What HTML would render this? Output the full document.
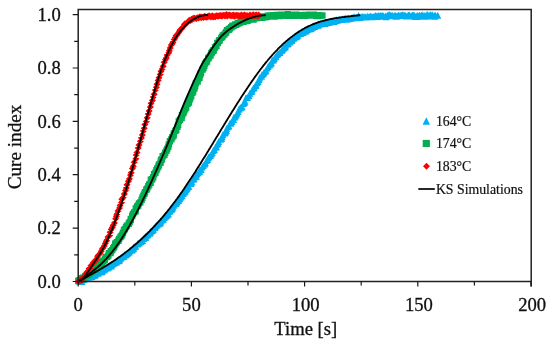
<!DOCTYPE html>
<html><head><meta charset="utf-8"><title>Cure index</title>
<style>html,body{margin:0;padding:0;background:#fff}svg{display:block}text{font-family:"Liberation Serif",serif;font-size:18.6px;fill:#111;stroke:#111;stroke-width:.3px}</style>
</head><body>
<svg width="550" height="345" viewBox="0 0 550 345">
<rect width="550" height="345" fill="#fff"/>
<path fill="#00b0f0" d="M78.7 276.8l3.5 7.0h-7.0zM79.3 277.4l3.5 7.0h-7.0zM80.1 277.2l3.5 7.0h-7.0zM80.7 276.9l3.5 7.0h-7.0zM82.0 278.1l3.5 7.0h-7.0zM83.3 276.1l3.5 7.0h-7.0zM84.1 275.6l3.5 7.0h-7.0zM84.9 275.3l3.5 7.0h-7.0zM86.3 275.0l3.5 7.0h-7.0zM87.4 274.6l3.5 7.0h-7.0zM88.2 274.9l3.5 7.0h-7.0zM89.3 273.6l3.5 7.0h-7.0zM90.2 273.6l3.5 7.0h-7.0zM91.7 272.8l3.5 7.0h-7.0zM92.1 272.9l3.5 7.0h-7.0zM93.0 271.9l3.5 7.0h-7.0zM94.4 271.8l3.5 7.0h-7.0zM95.2 271.3l3.5 7.0h-7.0zM95.5 271.0l3.5 7.0h-7.0zM97.0 269.3l3.5 7.0h-7.0zM98.3 269.8l3.5 7.0h-7.0zM99.1 268.5l3.5 7.0h-7.0zM100.2 268.4l3.5 7.0h-7.0zM101.6 268.3l3.5 7.0h-7.0zM102.2 267.9l3.5 7.0h-7.0zM103.1 266.4l3.5 7.0h-7.0zM104.3 266.5l3.5 7.0h-7.0zM105.1 265.3l3.5 7.0h-7.0zM106.3 263.9l3.5 7.0h-7.0zM107.4 264.6l3.5 7.0h-7.0zM107.8 263.8l3.5 7.0h-7.0zM109.0 263.5l3.5 7.0h-7.0zM109.7 262.1l3.5 7.0h-7.0zM111.4 262.4l3.5 7.0h-7.0zM111.7 261.0l3.5 7.0h-7.0zM113.3 260.2l3.5 7.0h-7.0zM114.6 259.3l3.5 7.0h-7.0zM115.3 258.7l3.5 7.0h-7.0zM116.6 258.4l3.5 7.0h-7.0zM117.1 256.9l3.5 7.0h-7.0zM118.6 257.3l3.5 7.0h-7.0zM119.4 256.7l3.5 7.0h-7.0zM120.3 255.2l3.5 7.0h-7.0zM121.0 254.3l3.5 7.0h-7.0zM122.5 253.2l3.5 7.0h-7.0zM123.1 253.0l3.5 7.0h-7.0zM124.3 252.6l3.5 7.0h-7.0zM124.9 250.7l3.5 7.0h-7.0zM126.2 251.2l3.5 7.0h-7.0zM127.4 249.9l3.5 7.0h-7.0zM128.1 249.1l3.5 7.0h-7.0zM129.1 248.5l3.5 7.0h-7.0zM130.0 247.3l3.5 7.0h-7.0zM131.2 246.6l3.5 7.0h-7.0zM132.3 246.6l3.5 7.0h-7.0zM133.6 245.3l3.5 7.0h-7.0zM133.7 243.6l3.5 7.0h-7.0zM135.0 243.1l3.5 7.0h-7.0zM135.6 242.5l3.5 7.0h-7.0zM137.5 240.5l3.5 7.0h-7.0zM138.0 239.8l3.5 7.0h-7.0zM139.2 239.6l3.5 7.0h-7.0zM140.7 238.3l3.5 7.0h-7.0zM141.4 237.5l3.5 7.0h-7.0zM142.6 236.9l3.5 7.0h-7.0zM143.5 235.1l3.5 7.0h-7.0zM144.2 234.3l3.5 7.0h-7.0zM145.6 234.0l3.5 7.0h-7.0zM146.1 232.6l3.5 7.0h-7.0zM147.3 231.5l3.5 7.0h-7.0zM148.0 231.1l3.5 7.0h-7.0zM149.8 229.8l3.5 7.0h-7.0zM150.1 228.4l3.5 7.0h-7.0zM150.9 228.2l3.5 7.0h-7.0zM152.4 227.0l3.5 7.0h-7.0zM153.3 226.0l3.5 7.0h-7.0zM154.2 224.2l3.5 7.0h-7.0zM155.1 223.9l3.5 7.0h-7.0zM156.0 222.6l3.5 7.0h-7.0zM157.0 221.6l3.5 7.0h-7.0zM158.4 220.5l3.5 7.0h-7.0zM159.2 220.0l3.5 7.0h-7.0zM160.4 219.3l3.5 7.0h-7.0zM160.7 217.8l3.5 7.0h-7.0zM162.1 216.4l3.5 7.0h-7.0zM163.4 215.7l3.5 7.0h-7.0zM164.5 214.1l3.5 7.0h-7.0zM165.6 212.8l3.5 7.0h-7.0zM166.2 212.1l3.5 7.0h-7.0zM167.1 211.6l3.5 7.0h-7.0zM168.5 210.4l3.5 7.0h-7.0zM169.2 208.0l3.5 7.0h-7.0zM170.2 207.3l3.5 7.0h-7.0zM171.1 206.0l3.5 7.0h-7.0zM172.2 205.3l3.5 7.0h-7.0zM173.0 203.8l3.5 7.0h-7.0zM174.0 201.7l3.5 7.0h-7.0zM175.0 200.3l3.5 7.0h-7.0zM176.2 200.0l3.5 7.0h-7.0zM177.2 198.6l3.5 7.0h-7.0zM178.6 197.1l3.5 7.0h-7.0zM179.2 195.6l3.5 7.0h-7.0zM179.8 194.7l3.5 7.0h-7.0zM180.8 193.4l3.5 7.0h-7.0zM182.2 192.3l3.5 7.0h-7.0zM183.2 190.1l3.5 7.0h-7.0zM184.3 188.8l3.5 7.0h-7.0zM185.2 187.8l3.5 7.0h-7.0zM186.2 186.3l3.5 7.0h-7.0zM187.0 184.9l3.5 7.0h-7.0zM187.7 183.6l3.5 7.0h-7.0zM188.9 182.8l3.5 7.0h-7.0zM190.5 180.0l3.5 7.0h-7.0zM191.2 179.4l3.5 7.0h-7.0zM191.9 178.3l3.5 7.0h-7.0zM193.1 175.8l3.5 7.0h-7.0zM194.1 175.2l3.5 7.0h-7.0zM195.2 173.2l3.5 7.0h-7.0zM196.4 172.7l3.5 7.0h-7.0zM196.9 170.6l3.5 7.0h-7.0zM198.2 169.2l3.5 7.0h-7.0zM199.6 168.1l3.5 7.0h-7.0zM199.9 166.2l3.5 7.0h-7.0zM201.2 166.1l3.5 7.0h-7.0zM202.2 163.6l3.5 7.0h-7.0zM203.3 162.1l3.5 7.0h-7.0zM204.8 160.4l3.5 7.0h-7.0zM205.4 159.2l3.5 7.0h-7.0zM206.4 157.1l3.5 7.0h-7.0zM207.6 156.1l3.5 7.0h-7.0zM208.2 154.2l3.5 7.0h-7.0zM209.0 153.3l3.5 7.0h-7.0zM210.4 151.9l3.5 7.0h-7.0zM211.5 150.4l3.5 7.0h-7.0zM212.2 148.9l3.5 7.0h-7.0zM213.3 146.9l3.5 7.0h-7.0zM214.4 146.0l3.5 7.0h-7.0zM215.3 143.8l3.5 7.0h-7.0zM216.4 143.2l3.5 7.0h-7.0zM217.1 140.8l3.5 7.0h-7.0zM218.2 139.8l3.5 7.0h-7.0zM218.7 137.9l3.5 7.0h-7.0zM220.5 135.8l3.5 7.0h-7.0zM221.6 134.9l3.5 7.0h-7.0zM222.1 133.2l3.5 7.0h-7.0zM222.8 131.3l3.5 7.0h-7.0zM224.7 129.6l3.5 7.0h-7.0zM225.7 128.4l3.5 7.0h-7.0zM226.4 126.9l3.5 7.0h-7.0zM226.6 125.0l3.5 7.0h-7.0zM228.2 123.2l3.5 7.0h-7.0zM228.9 122.3l3.5 7.0h-7.0zM230.0 119.8l3.5 7.0h-7.0zM231.0 119.4l3.5 7.0h-7.0zM232.1 117.9l3.5 7.0h-7.0zM233.6 115.9l3.5 7.0h-7.0zM233.9 113.7l3.5 7.0h-7.0zM235.2 113.2l3.5 7.0h-7.0zM236.3 111.5l3.5 7.0h-7.0zM237.1 109.8l3.5 7.0h-7.0zM238.1 107.9l3.5 7.0h-7.0zM238.9 105.8l3.5 7.0h-7.0zM240.1 104.5l3.5 7.0h-7.0zM241.0 103.7l3.5 7.0h-7.0zM242.2 103.2l3.5 7.0h-7.0zM243.4 100.0l3.5 7.0h-7.0zM244.4 98.9l3.5 7.0h-7.0zM245.0 97.7l3.5 7.0h-7.0zM246.0 94.3l3.5 7.0h-7.0zM247.4 93.9l3.5 7.0h-7.0zM248.6 92.3l3.5 7.0h-7.0zM248.9 91.8l3.5 7.0h-7.0zM249.9 89.7l3.5 7.0h-7.0zM251.6 88.1l3.5 7.0h-7.0zM252.2 86.6l3.5 7.0h-7.0zM253.4 84.7l3.5 7.0h-7.0zM254.4 83.8l3.5 7.0h-7.0zM255.8 81.9l3.5 7.0h-7.0zM256.0 80.9l3.5 7.0h-7.0zM257.1 79.2l3.5 7.0h-7.0zM258.2 78.1l3.5 7.0h-7.0zM259.0 76.0l3.5 7.0h-7.0zM259.6 74.2l3.5 7.0h-7.0zM261.6 72.8l3.5 7.0h-7.0zM262.0 71.1l3.5 7.0h-7.0zM263.3 70.3l3.5 7.0h-7.0zM263.9 69.1l3.5 7.0h-7.0zM265.3 67.7l3.5 7.0h-7.0zM266.0 66.7l3.5 7.0h-7.0zM267.3 64.4l3.5 7.0h-7.0zM268.1 63.0l3.5 7.0h-7.0zM269.4 61.6l3.5 7.0h-7.0zM270.5 60.6l3.5 7.0h-7.0zM271.5 59.3l3.5 7.0h-7.0zM272.2 56.7l3.5 7.0h-7.0zM273.3 56.6l3.5 7.0h-7.0zM274.2 55.2l3.5 7.0h-7.0zM275.1 53.5l3.5 7.0h-7.0zM276.0 53.1l3.5 7.0h-7.0zM277.2 51.0l3.5 7.0h-7.0zM277.9 50.0l3.5 7.0h-7.0zM279.6 49.1l3.5 7.0h-7.0zM280.0 48.4l3.5 7.0h-7.0zM281.6 47.1l3.5 7.0h-7.0zM282.4 46.1l3.5 7.0h-7.0zM283.3 44.8l3.5 7.0h-7.0zM284.0 44.1l3.5 7.0h-7.0zM285.3 43.4l3.5 7.0h-7.0zM285.7 41.8l3.5 7.0h-7.0zM287.4 40.4l3.5 7.0h-7.0zM288.3 39.9l3.5 7.0h-7.0zM289.3 38.4l3.5 7.0h-7.0zM290.2 38.3l3.5 7.0h-7.0zM291.5 37.0l3.5 7.0h-7.0zM292.2 36.2l3.5 7.0h-7.0zM293.5 34.8l3.5 7.0h-7.0zM293.9 34.6l3.5 7.0h-7.0zM294.9 33.5l3.5 7.0h-7.0zM296.2 33.2l3.5 7.0h-7.0zM296.9 32.6l3.5 7.0h-7.0zM297.8 31.8l3.5 7.0h-7.0zM298.8 30.3l3.5 7.0h-7.0zM300.4 30.0l3.5 7.0h-7.0zM301.0 29.4l3.5 7.0h-7.0zM302.3 28.9l3.5 7.0h-7.0zM303.2 28.8l3.5 7.0h-7.0zM304.0 27.6l3.5 7.0h-7.0zM305.1 27.7l3.5 7.0h-7.0zM306.4 27.2l3.5 7.0h-7.0zM307.2 26.1l3.5 7.0h-7.0zM308.4 25.4l3.5 7.0h-7.0zM309.4 25.4l3.5 7.0h-7.0zM310.0 24.6l3.5 7.0h-7.0zM311.2 25.0l3.5 7.0h-7.0zM312.8 23.7l3.5 7.0h-7.0zM313.2 22.3l3.5 7.0h-7.0zM314.3 22.9l3.5 7.0h-7.0zM314.9 22.8l3.5 7.0h-7.0zM315.8 22.0l3.5 7.0h-7.0zM317.2 21.1l3.5 7.0h-7.0zM318.4 21.8l3.5 7.0h-7.0zM318.9 20.4l3.5 7.0h-7.0zM320.4 20.6l3.5 7.0h-7.0zM320.9 20.2l3.5 7.0h-7.0zM322.2 20.0l3.5 7.0h-7.0zM323.4 19.9l3.5 7.0h-7.0zM324.6 20.0l3.5 7.0h-7.0zM325.4 19.6l3.5 7.0h-7.0zM326.5 19.2l3.5 7.0h-7.0zM326.9 19.0l3.5 7.0h-7.0zM328.2 19.1l3.5 7.0h-7.0zM329.2 18.3l3.5 7.0h-7.0zM330.3 18.6l3.5 7.0h-7.0zM331.2 17.5l3.5 7.0h-7.0zM332.3 17.2l3.5 7.0h-7.0zM333.2 17.2l3.5 7.0h-7.0zM334.3 17.9l3.5 7.0h-7.0zM335.1 16.8l3.5 7.0h-7.0zM336.2 16.9l3.5 7.0h-7.0zM336.9 16.1l3.5 7.0h-7.0zM338.2 16.5l3.5 7.0h-7.0zM339.2 15.8l3.5 7.0h-7.0zM340.0 16.1l3.5 7.0h-7.0zM341.6 15.9l3.5 7.0h-7.0zM342.2 15.8l3.5 7.0h-7.0zM343.0 15.3l3.5 7.0h-7.0zM344.1 15.4l3.5 7.0h-7.0zM345.2 14.6l3.5 7.0h-7.0zM346.5 15.7l3.5 7.0h-7.0zM347.1 15.0l3.5 7.0h-7.0zM348.3 15.1l3.5 7.0h-7.0zM348.8 15.3l3.5 7.0h-7.0zM350.1 15.0l3.5 7.0h-7.0zM351.2 14.2l3.5 7.0h-7.0zM352.2 14.6l3.5 7.0h-7.0zM353.0 14.0l3.5 7.0h-7.0zM354.1 13.2l3.5 7.0h-7.0zM355.5 14.2l3.5 7.0h-7.0zM356.2 14.3l3.5 7.0h-7.0zM357.0 13.7l3.5 7.0h-7.0zM358.6 14.1l3.5 7.0h-7.0zM358.6 12.1l3.5 7.0h-7.0zM359.9 13.9l3.5 7.0h-7.0zM361.1 13.3l3.5 7.0h-7.0zM362.4 12.9l3.5 7.0h-7.0zM363.3 13.6l3.5 7.0h-7.0zM364.3 13.4l3.5 7.0h-7.0zM365.0 13.3l3.5 7.0h-7.0zM366.1 13.6l3.5 7.0h-7.0zM367.8 12.6l3.5 7.0h-7.0zM367.7 12.7l3.5 7.0h-7.0zM369.3 13.3l3.5 7.0h-7.0zM370.5 12.5l3.5 7.0h-7.0zM371.0 13.3l3.5 7.0h-7.0zM371.9 13.2l3.5 7.0h-7.0zM373.1 13.0l3.5 7.0h-7.0zM374.4 13.0l3.5 7.0h-7.0zM375.4 12.1l3.5 7.0h-7.0zM376.3 12.5l3.5 7.0h-7.0zM377.3 13.0l3.5 7.0h-7.0zM378.1 12.1l3.5 7.0h-7.0zM379.0 12.3l3.5 7.0h-7.0zM380.4 12.0l3.5 7.0h-7.0zM381.5 12.5l3.5 7.0h-7.0zM382.1 11.7l3.5 7.0h-7.0zM383.3 12.6l3.5 7.0h-7.0zM383.8 12.8l3.5 7.0h-7.0zM385.6 12.4l3.5 7.0h-7.0zM386.3 13.3l3.5 7.0h-7.0zM387.5 11.8l3.5 7.0h-7.0zM388.2 12.1l3.5 7.0h-7.0zM389.2 11.0l3.5 7.0h-7.0zM390.4 11.8l3.5 7.0h-7.0zM391.2 12.0l3.5 7.0h-7.0zM392.4 11.9l3.5 7.0h-7.0zM393.0 12.3l3.5 7.0h-7.0zM394.6 11.9l3.5 7.0h-7.0zM395.5 12.1l3.5 7.0h-7.0zM396.1 12.7l3.5 7.0h-7.0zM397.0 12.4l3.5 7.0h-7.0zM398.1 12.1l3.5 7.0h-7.0zM398.9 11.6l3.5 7.0h-7.0zM400.5 12.0l3.5 7.0h-7.0zM401.2 11.7l3.5 7.0h-7.0zM402.3 11.3l3.5 7.0h-7.0zM402.9 11.8l3.5 7.0h-7.0zM404.0 11.6l3.5 7.0h-7.0zM405.2 11.8l3.5 7.0h-7.0zM406.1 12.6l3.5 7.0h-7.0zM407.5 12.5l3.5 7.0h-7.0zM408.2 11.7l3.5 7.0h-7.0zM408.8 11.7l3.5 7.0h-7.0zM409.7 11.6l3.5 7.0h-7.0zM411.4 12.6l3.5 7.0h-7.0zM412.4 11.5l3.5 7.0h-7.0zM413.3 11.5l3.5 7.0h-7.0zM414.4 11.8l3.5 7.0h-7.0zM415.4 13.1l3.5 7.0h-7.0zM416.4 12.9l3.5 7.0h-7.0zM417.2 11.8l3.5 7.0h-7.0zM418.5 12.7l3.5 7.0h-7.0zM419.1 11.9l3.5 7.0h-7.0zM419.8 11.8l3.5 7.0h-7.0zM421.4 11.9l3.5 7.0h-7.0zM422.1 11.3l3.5 7.0h-7.0zM423.3 12.3l3.5 7.0h-7.0zM424.3 12.0l3.5 7.0h-7.0zM424.9 12.7l3.5 7.0h-7.0zM426.2 11.8l3.5 7.0h-7.0zM427.4 10.9l3.5 7.0h-7.0zM428.2 11.8l3.5 7.0h-7.0zM429.3 12.5l3.5 7.0h-7.0zM430.3 11.1l3.5 7.0h-7.0zM431.1 12.0l3.5 7.0h-7.0zM432.2 11.3l3.5 7.0h-7.0zM432.8 12.1l3.5 7.0h-7.0zM434.3 11.9l3.5 7.0h-7.0zM434.8 12.7l3.5 7.0h-7.0zM435.5 11.7l3.5 7.0h-7.0zM437.8 11.8l3.5 7.0h-7.0z"/><path fill="#00b050" d="M75.1 277.8h6.4v6.4h-6.4zM76.3 277.0h6.4v6.4h-6.4zM77.1 276.9h6.4v6.4h-6.4zM77.7 276.6h6.4v6.4h-6.4zM78.6 275.1h6.4v6.4h-6.4zM80.0 274.6h6.4v6.4h-6.4zM81.1 274.5h6.4v6.4h-6.4zM81.9 273.1h6.4v6.4h-6.4zM82.9 272.5h6.4v6.4h-6.4zM84.2 271.9h6.4v6.4h-6.4zM85.1 271.2h6.4v6.4h-6.4zM85.8 270.9h6.4v6.4h-6.4zM86.7 269.8h6.4v6.4h-6.4zM88.4 268.5h6.4v6.4h-6.4zM89.0 267.5h6.4v6.4h-6.4zM89.9 266.8h6.4v6.4h-6.4zM90.9 266.4h6.4v6.4h-6.4zM92.0 266.6h6.4v6.4h-6.4zM93.1 265.3h6.4v6.4h-6.4zM94.0 264.0h6.4v6.4h-6.4zM94.8 262.4h6.4v6.4h-6.4zM96.0 263.0h6.4v6.4h-6.4zM97.1 261.1h6.4v6.4h-6.4zM98.4 260.1h6.4v6.4h-6.4zM98.8 258.7h6.4v6.4h-6.4zM99.8 258.1h6.4v6.4h-6.4zM101.5 257.0h6.4v6.4h-6.4zM101.7 255.6h6.4v6.4h-6.4zM102.9 253.9h6.4v6.4h-6.4zM104.0 253.7h6.4v6.4h-6.4zM105.1 252.4h6.4v6.4h-6.4zM105.7 250.0h6.4v6.4h-6.4zM107.3 249.9h6.4v6.4h-6.4zM107.6 248.1h6.4v6.4h-6.4zM109.0 246.9h6.4v6.4h-6.4zM110.1 244.9h6.4v6.4h-6.4zM111.0 243.7h6.4v6.4h-6.4zM112.0 241.3h6.4v6.4h-6.4zM112.3 240.2h6.4v6.4h-6.4zM113.6 239.1h6.4v6.4h-6.4zM115.2 237.5h6.4v6.4h-6.4zM115.9 235.8h6.4v6.4h-6.4zM117.3 233.8h6.4v6.4h-6.4zM118.2 232.8h6.4v6.4h-6.4zM119.1 231.4h6.4v6.4h-6.4zM119.8 229.5h6.4v6.4h-6.4zM120.8 227.0h6.4v6.4h-6.4zM121.7 225.9h6.4v6.4h-6.4zM122.8 223.9h6.4v6.4h-6.4zM123.7 222.6h6.4v6.4h-6.4zM125.5 220.5h6.4v6.4h-6.4zM126.4 218.9h6.4v6.4h-6.4zM127.5 216.9h6.4v6.4h-6.4zM127.6 215.7h6.4v6.4h-6.4zM129.0 212.8h6.4v6.4h-6.4zM129.8 210.7h6.4v6.4h-6.4zM131.0 209.2h6.4v6.4h-6.4zM132.4 208.1h6.4v6.4h-6.4zM132.6 205.3h6.4v6.4h-6.4zM133.9 203.3h6.4v6.4h-6.4zM135.0 202.3h6.4v6.4h-6.4zM135.8 200.2h6.4v6.4h-6.4zM137.1 199.2h6.4v6.4h-6.4zM138.4 196.7h6.4v6.4h-6.4zM139.2 194.5h6.4v6.4h-6.4zM140.1 192.5h6.4v6.4h-6.4zM141.2 190.5h6.4v6.4h-6.4zM141.8 189.1h6.4v6.4h-6.4zM143.1 186.6h6.4v6.4h-6.4zM143.9 185.4h6.4v6.4h-6.4zM145.1 183.0h6.4v6.4h-6.4zM146.0 181.3h6.4v6.4h-6.4zM147.4 179.7h6.4v6.4h-6.4zM147.7 176.5h6.4v6.4h-6.4zM149.0 176.1h6.4v6.4h-6.4zM150.0 174.0h6.4v6.4h-6.4zM150.9 171.0h6.4v6.4h-6.4zM152.2 169.6h6.4v6.4h-6.4zM153.2 167.0h6.4v6.4h-6.4zM154.0 165.3h6.4v6.4h-6.4zM155.2 163.3h6.4v6.4h-6.4zM155.8 161.3h6.4v6.4h-6.4zM157.3 159.5h6.4v6.4h-6.4zM157.8 157.0h6.4v6.4h-6.4zM158.7 156.1h6.4v6.4h-6.4zM159.5 153.0h6.4v6.4h-6.4zM161.2 151.8h6.4v6.4h-6.4zM162.0 149.6h6.4v6.4h-6.4zM163.2 147.6h6.4v6.4h-6.4zM164.0 145.8h6.4v6.4h-6.4zM165.1 143.6h6.4v6.4h-6.4zM165.7 141.2h6.4v6.4h-6.4zM166.7 138.0h6.4v6.4h-6.4zM168.1 136.2h6.4v6.4h-6.4zM169.1 134.0h6.4v6.4h-6.4zM170.4 132.3h6.4v6.4h-6.4zM170.7 130.2h6.4v6.4h-6.4zM172.2 127.7h6.4v6.4h-6.4zM173.1 126.8h6.4v6.4h-6.4zM174.2 123.7h6.4v6.4h-6.4zM174.9 121.7h6.4v6.4h-6.4zM175.6 117.9h6.4v6.4h-6.4zM176.8 116.6h6.4v6.4h-6.4zM178.4 114.9h6.4v6.4h-6.4zM178.8 112.1h6.4v6.4h-6.4zM180.1 110.1h6.4v6.4h-6.4zM180.9 108.2h6.4v6.4h-6.4zM182.0 106.0h6.4v6.4h-6.4zM183.0 104.3h6.4v6.4h-6.4zM184.4 100.7h6.4v6.4h-6.4zM185.7 99.3h6.4v6.4h-6.4zM186.3 96.6h6.4v6.4h-6.4zM187.1 94.8h6.4v6.4h-6.4zM188.0 92.8h6.4v6.4h-6.4zM189.2 89.6h6.4v6.4h-6.4zM190.0 88.1h6.4v6.4h-6.4zM191.2 85.3h6.4v6.4h-6.4zM191.9 83.1h6.4v6.4h-6.4zM192.7 80.2h6.4v6.4h-6.4zM194.4 78.3h6.4v6.4h-6.4zM195.0 75.8h6.4v6.4h-6.4zM196.3 74.6h6.4v6.4h-6.4zM197.0 71.7h6.4v6.4h-6.4zM197.8 69.9h6.4v6.4h-6.4zM199.3 66.4h6.4v6.4h-6.4zM200.3 64.8h6.4v6.4h-6.4zM201.1 62.7h6.4v6.4h-6.4zM201.9 60.4h6.4v6.4h-6.4zM203.2 58.9h6.4v6.4h-6.4zM203.8 58.1h6.4v6.4h-6.4zM205.0 55.3h6.4v6.4h-6.4zM205.8 54.2h6.4v6.4h-6.4zM207.3 52.4h6.4v6.4h-6.4zM208.2 49.9h6.4v6.4h-6.4zM208.9 48.8h6.4v6.4h-6.4zM210.0 47.6h6.4v6.4h-6.4zM210.5 47.1h6.4v6.4h-6.4zM211.8 44.3h6.4v6.4h-6.4zM213.2 42.9h6.4v6.4h-6.4zM214.1 39.7h6.4v6.4h-6.4zM214.7 39.8h6.4v6.4h-6.4zM215.8 37.5h6.4v6.4h-6.4zM216.4 37.0h6.4v6.4h-6.4zM218.1 34.7h6.4v6.4h-6.4zM219.0 33.7h6.4v6.4h-6.4zM219.7 32.3h6.4v6.4h-6.4zM221.1 31.4h6.4v6.4h-6.4zM222.3 29.9h6.4v6.4h-6.4zM222.9 29.0h6.4v6.4h-6.4zM223.8 27.1h6.4v6.4h-6.4zM225.3 26.5h6.4v6.4h-6.4zM226.0 26.1h6.4v6.4h-6.4zM226.7 25.2h6.4v6.4h-6.4zM228.1 24.1h6.4v6.4h-6.4zM229.1 23.0h6.4v6.4h-6.4zM229.5 22.6h6.4v6.4h-6.4zM230.8 22.4h6.4v6.4h-6.4zM232.1 21.2h6.4v6.4h-6.4zM233.0 21.5h6.4v6.4h-6.4zM234.3 20.6h6.4v6.4h-6.4zM235.1 19.9h6.4v6.4h-6.4zM236.0 19.8h6.4v6.4h-6.4zM237.0 19.3h6.4v6.4h-6.4zM237.7 18.1h6.4v6.4h-6.4zM238.6 18.3h6.4v6.4h-6.4zM240.3 18.7h6.4v6.4h-6.4zM240.8 17.2h6.4v6.4h-6.4zM242.2 17.8h6.4v6.4h-6.4zM242.7 17.8h6.4v6.4h-6.4zM244.0 17.6h6.4v6.4h-6.4zM245.1 17.2h6.4v6.4h-6.4zM246.1 16.1h6.4v6.4h-6.4zM246.9 16.0h6.4v6.4h-6.4zM248.2 15.6h6.4v6.4h-6.4zM248.6 16.2h6.4v6.4h-6.4zM250.3 16.3h6.4v6.4h-6.4zM251.3 14.7h6.4v6.4h-6.4zM251.8 15.0h6.4v6.4h-6.4zM253.0 14.0h6.4v6.4h-6.4zM254.0 14.9h6.4v6.4h-6.4zM254.8 14.7h6.4v6.4h-6.4zM256.3 14.5h6.4v6.4h-6.4zM257.3 14.7h6.4v6.4h-6.4zM258.1 14.3h6.4v6.4h-6.4zM258.9 14.5h6.4v6.4h-6.4zM259.9 13.5h6.4v6.4h-6.4zM261.2 13.3h6.4v6.4h-6.4zM262.1 14.0h6.4v6.4h-6.4zM263.0 13.4h6.4v6.4h-6.4zM264.2 13.6h6.4v6.4h-6.4zM264.6 12.5h6.4v6.4h-6.4zM266.3 13.2h6.4v6.4h-6.4zM266.5 12.3h6.4v6.4h-6.4zM268.0 12.4h6.4v6.4h-6.4zM269.1 12.8h6.4v6.4h-6.4zM270.1 12.1h6.4v6.4h-6.4zM271.2 13.4h6.4v6.4h-6.4zM271.8 13.1h6.4v6.4h-6.4zM273.3 12.7h6.4v6.4h-6.4zM274.0 11.8h6.4v6.4h-6.4zM274.8 12.7h6.4v6.4h-6.4zM276.3 12.8h6.4v6.4h-6.4zM277.2 12.6h6.4v6.4h-6.4zM277.9 11.6h6.4v6.4h-6.4zM279.1 12.4h6.4v6.4h-6.4zM280.0 11.4h6.4v6.4h-6.4zM280.9 11.4h6.4v6.4h-6.4zM282.0 11.6h6.4v6.4h-6.4zM283.0 12.3h6.4v6.4h-6.4zM284.0 12.7h6.4v6.4h-6.4zM284.7 11.1h6.4v6.4h-6.4zM286.2 12.7h6.4v6.4h-6.4zM287.4 12.2h6.4v6.4h-6.4zM288.1 12.2h6.4v6.4h-6.4zM288.7 11.9h6.4v6.4h-6.4zM290.1 11.9h6.4v6.4h-6.4zM291.5 11.4h6.4v6.4h-6.4zM291.9 12.6h6.4v6.4h-6.4zM292.9 11.6h6.4v6.4h-6.4zM293.7 11.8h6.4v6.4h-6.4zM295.4 12.3h6.4v6.4h-6.4zM296.1 11.9h6.4v6.4h-6.4zM297.2 12.2h6.4v6.4h-6.4zM297.8 11.9h6.4v6.4h-6.4zM299.1 12.6h6.4v6.4h-6.4zM300.0 12.3h6.4v6.4h-6.4zM301.5 11.8h6.4v6.4h-6.4zM301.7 12.6h6.4v6.4h-6.4zM303.1 12.1h6.4v6.4h-6.4zM304.1 12.0h6.4v6.4h-6.4zM305.1 12.0h6.4v6.4h-6.4zM306.2 11.6h6.4v6.4h-6.4zM306.8 12.2h6.4v6.4h-6.4zM307.9 12.4h6.4v6.4h-6.4zM309.0 11.9h6.4v6.4h-6.4zM310.1 11.9h6.4v6.4h-6.4zM310.6 11.6h6.4v6.4h-6.4zM311.8 11.9h6.4v6.4h-6.4zM313.0 12.5h6.4v6.4h-6.4zM314.1 12.9h6.4v6.4h-6.4zM315.3 12.0h6.4v6.4h-6.4zM316.4 12.7h6.4v6.4h-6.4zM316.9 12.3h6.4v6.4h-6.4zM318.3 12.2h6.4v6.4h-6.4zM319.2 12.3h6.4v6.4h-6.4z"/><path fill="#ff0000" d="M78.4 277.9l3.5 3.5l-3.5 3.5l-3.5 -3.5zM79.3 277.5l3.5 3.5l-3.5 3.5l-3.5 -3.5zM80.4 276.3l3.5 3.5l-3.5 3.5l-3.5 -3.5zM81.3 276.9l3.5 3.5l-3.5 3.5l-3.5 -3.5zM82.4 275.4l3.5 3.5l-3.5 3.5l-3.5 -3.5zM83.3 274.0l3.5 3.5l-3.5 3.5l-3.5 -3.5zM84.0 273.1l3.5 3.5l-3.5 3.5l-3.5 -3.5zM85.2 272.4l3.5 3.5l-3.5 3.5l-3.5 -3.5zM86.0 271.0l3.5 3.5l-3.5 3.5l-3.5 -3.5zM86.8 268.8l3.5 3.5l-3.5 3.5l-3.5 -3.5zM88.2 268.1l3.5 3.5l-3.5 3.5l-3.5 -3.5zM89.1 265.0l3.5 3.5l-3.5 3.5l-3.5 -3.5zM90.3 264.4l3.5 3.5l-3.5 3.5l-3.5 -3.5zM90.9 262.3l3.5 3.5l-3.5 3.5l-3.5 -3.5zM92.0 261.2l3.5 3.5l-3.5 3.5l-3.5 -3.5zM93.4 258.9l3.5 3.5l-3.5 3.5l-3.5 -3.5zM94.8 258.0l3.5 3.5l-3.5 3.5l-3.5 -3.5zM95.1 256.9l3.5 3.5l-3.5 3.5l-3.5 -3.5zM96.2 256.2l3.5 3.5l-3.5 3.5l-3.5 -3.5zM97.5 253.5l3.5 3.5l-3.5 3.5l-3.5 -3.5zM98.1 252.0l3.5 3.5l-3.5 3.5l-3.5 -3.5zM99.1 251.1l3.5 3.5l-3.5 3.5l-3.5 -3.5zM100.0 250.0l3.5 3.5l-3.5 3.5l-3.5 -3.5zM101.2 247.7l3.5 3.5l-3.5 3.5l-3.5 -3.5zM102.4 245.2l3.5 3.5l-3.5 3.5l-3.5 -3.5zM103.0 244.6l3.5 3.5l-3.5 3.5l-3.5 -3.5zM104.2 242.4l3.5 3.5l-3.5 3.5l-3.5 -3.5zM105.3 240.1l3.5 3.5l-3.5 3.5l-3.5 -3.5zM106.2 237.7l3.5 3.5l-3.5 3.5l-3.5 -3.5zM106.7 236.7l3.5 3.5l-3.5 3.5l-3.5 -3.5zM108.0 233.5l3.5 3.5l-3.5 3.5l-3.5 -3.5zM109.6 232.0l3.5 3.5l-3.5 3.5l-3.5 -3.5zM110.1 228.8l3.5 3.5l-3.5 3.5l-3.5 -3.5zM111.2 226.1l3.5 3.5l-3.5 3.5l-3.5 -3.5zM112.3 224.0l3.5 3.5l-3.5 3.5l-3.5 -3.5zM113.2 221.7l3.5 3.5l-3.5 3.5l-3.5 -3.5zM114.4 219.5l3.5 3.5l-3.5 3.5l-3.5 -3.5zM115.6 215.2l3.5 3.5l-3.5 3.5l-3.5 -3.5zM116.4 212.7l3.5 3.5l-3.5 3.5l-3.5 -3.5zM116.9 210.7l3.5 3.5l-3.5 3.5l-3.5 -3.5zM118.0 207.4l3.5 3.5l-3.5 3.5l-3.5 -3.5zM119.5 204.4l3.5 3.5l-3.5 3.5l-3.5 -3.5zM120.0 201.9l3.5 3.5l-3.5 3.5l-3.5 -3.5zM121.5 199.1l3.5 3.5l-3.5 3.5l-3.5 -3.5zM121.8 195.7l3.5 3.5l-3.5 3.5l-3.5 -3.5zM123.2 193.9l3.5 3.5l-3.5 3.5l-3.5 -3.5zM124.4 190.5l3.5 3.5l-3.5 3.5l-3.5 -3.5zM125.5 187.1l3.5 3.5l-3.5 3.5l-3.5 -3.5zM126.3 184.4l3.5 3.5l-3.5 3.5l-3.5 -3.5zM127.0 181.2l3.5 3.5l-3.5 3.5l-3.5 -3.5zM128.4 177.7l3.5 3.5l-3.5 3.5l-3.5 -3.5zM129.4 175.4l3.5 3.5l-3.5 3.5l-3.5 -3.5zM130.5 171.5l3.5 3.5l-3.5 3.5l-3.5 -3.5zM131.2 169.3l3.5 3.5l-3.5 3.5l-3.5 -3.5zM132.4 165.0l3.5 3.5l-3.5 3.5l-3.5 -3.5zM133.3 162.7l3.5 3.5l-3.5 3.5l-3.5 -3.5zM134.2 158.8l3.5 3.5l-3.5 3.5l-3.5 -3.5zM135.9 155.2l3.5 3.5l-3.5 3.5l-3.5 -3.5zM136.2 151.4l3.5 3.5l-3.5 3.5l-3.5 -3.5zM137.0 149.0l3.5 3.5l-3.5 3.5l-3.5 -3.5zM138.2 144.4l3.5 3.5l-3.5 3.5l-3.5 -3.5zM139.0 141.5l3.5 3.5l-3.5 3.5l-3.5 -3.5zM140.4 137.7l3.5 3.5l-3.5 3.5l-3.5 -3.5zM141.4 134.4l3.5 3.5l-3.5 3.5l-3.5 -3.5zM142.3 131.5l3.5 3.5l-3.5 3.5l-3.5 -3.5zM143.4 127.6l3.5 3.5l-3.5 3.5l-3.5 -3.5zM144.2 124.7l3.5 3.5l-3.5 3.5l-3.5 -3.5zM144.9 121.1l3.5 3.5l-3.5 3.5l-3.5 -3.5zM146.3 118.1l3.5 3.5l-3.5 3.5l-3.5 -3.5zM147.2 114.2l3.5 3.5l-3.5 3.5l-3.5 -3.5zM148.2 110.5l3.5 3.5l-3.5 3.5l-3.5 -3.5zM149.1 107.6l3.5 3.5l-3.5 3.5l-3.5 -3.5zM150.3 103.6l3.5 3.5l-3.5 3.5l-3.5 -3.5zM151.1 99.7l3.5 3.5l-3.5 3.5l-3.5 -3.5zM152.4 97.1l3.5 3.5l-3.5 3.5l-3.5 -3.5zM153.3 93.4l3.5 3.5l-3.5 3.5l-3.5 -3.5zM154.2 90.7l3.5 3.5l-3.5 3.5l-3.5 -3.5zM155.4 86.5l3.5 3.5l-3.5 3.5l-3.5 -3.5zM156.4 83.8l3.5 3.5l-3.5 3.5l-3.5 -3.5zM157.0 80.7l3.5 3.5l-3.5 3.5l-3.5 -3.5zM158.1 77.1l3.5 3.5l-3.5 3.5l-3.5 -3.5zM159.0 74.2l3.5 3.5l-3.5 3.5l-3.5 -3.5zM160.2 70.9l3.5 3.5l-3.5 3.5l-3.5 -3.5zM161.0 67.7l3.5 3.5l-3.5 3.5l-3.5 -3.5zM162.3 65.5l3.5 3.5l-3.5 3.5l-3.5 -3.5zM163.2 62.7l3.5 3.5l-3.5 3.5l-3.5 -3.5zM164.2 58.8l3.5 3.5l-3.5 3.5l-3.5 -3.5zM165.4 56.2l3.5 3.5l-3.5 3.5l-3.5 -3.5zM166.3 54.5l3.5 3.5l-3.5 3.5l-3.5 -3.5zM167.1 51.5l3.5 3.5l-3.5 3.5l-3.5 -3.5zM168.8 49.3l3.5 3.5l-3.5 3.5l-3.5 -3.5zM169.3 47.2l3.5 3.5l-3.5 3.5l-3.5 -3.5zM170.2 44.6l3.5 3.5l-3.5 3.5l-3.5 -3.5zM171.3 41.4l3.5 3.5l-3.5 3.5l-3.5 -3.5zM172.5 39.9l3.5 3.5l-3.5 3.5l-3.5 -3.5zM172.9 38.7l3.5 3.5l-3.5 3.5l-3.5 -3.5zM174.2 36.0l3.5 3.5l-3.5 3.5l-3.5 -3.5zM175.2 34.2l3.5 3.5l-3.5 3.5l-3.5 -3.5zM176.0 32.3l3.5 3.5l-3.5 3.5l-3.5 -3.5zM177.0 31.4l3.5 3.5l-3.5 3.5l-3.5 -3.5zM178.2 29.8l3.5 3.5l-3.5 3.5l-3.5 -3.5zM179.4 28.1l3.5 3.5l-3.5 3.5l-3.5 -3.5zM180.0 26.5l3.5 3.5l-3.5 3.5l-3.5 -3.5zM181.6 25.3l3.5 3.5l-3.5 3.5l-3.5 -3.5zM182.3 23.9l3.5 3.5l-3.5 3.5l-3.5 -3.5zM183.3 23.0l3.5 3.5l-3.5 3.5l-3.5 -3.5zM184.2 21.6l3.5 3.5l-3.5 3.5l-3.5 -3.5zM185.0 20.2l3.5 3.5l-3.5 3.5l-3.5 -3.5zM186.3 20.0l3.5 3.5l-3.5 3.5l-3.5 -3.5zM187.4 18.8l3.5 3.5l-3.5 3.5l-3.5 -3.5zM188.0 18.3l3.5 3.5l-3.5 3.5l-3.5 -3.5zM189.3 16.7l3.5 3.5l-3.5 3.5l-3.5 -3.5zM190.4 17.1l3.5 3.5l-3.5 3.5l-3.5 -3.5zM191.6 15.8l3.5 3.5l-3.5 3.5l-3.5 -3.5zM191.9 16.2l3.5 3.5l-3.5 3.5l-3.5 -3.5zM192.7 15.2l3.5 3.5l-3.5 3.5l-3.5 -3.5zM193.9 14.7l3.5 3.5l-3.5 3.5l-3.5 -3.5zM194.7 14.8l3.5 3.5l-3.5 3.5l-3.5 -3.5zM196.4 14.9l3.5 3.5l-3.5 3.5l-3.5 -3.5zM197.3 14.3l3.5 3.5l-3.5 3.5l-3.5 -3.5zM198.6 14.5l3.5 3.5l-3.5 3.5l-3.5 -3.5zM199.5 13.5l3.5 3.5l-3.5 3.5l-3.5 -3.5zM200.3 13.5l3.5 3.5l-3.5 3.5l-3.5 -3.5zM201.3 14.0l3.5 3.5l-3.5 3.5l-3.5 -3.5zM201.9 13.8l3.5 3.5l-3.5 3.5l-3.5 -3.5zM203.5 13.9l3.5 3.5l-3.5 3.5l-3.5 -3.5zM204.3 13.1l3.5 3.5l-3.5 3.5l-3.5 -3.5zM205.0 12.9l3.5 3.5l-3.5 3.5l-3.5 -3.5zM206.2 13.8l3.5 3.5l-3.5 3.5l-3.5 -3.5zM207.3 13.2l3.5 3.5l-3.5 3.5l-3.5 -3.5zM207.9 13.3l3.5 3.5l-3.5 3.5l-3.5 -3.5zM209.1 12.2l3.5 3.5l-3.5 3.5l-3.5 -3.5zM209.8 12.8l3.5 3.5l-3.5 3.5l-3.5 -3.5zM211.0 13.6l3.5 3.5l-3.5 3.5l-3.5 -3.5zM212.2 12.3l3.5 3.5l-3.5 3.5l-3.5 -3.5zM213.1 13.4l3.5 3.5l-3.5 3.5l-3.5 -3.5zM214.0 13.0l3.5 3.5l-3.5 3.5l-3.5 -3.5zM215.3 13.2l3.5 3.5l-3.5 3.5l-3.5 -3.5zM216.3 12.3l3.5 3.5l-3.5 3.5l-3.5 -3.5zM217.3 12.5l3.5 3.5l-3.5 3.5l-3.5 -3.5zM218.4 12.4l3.5 3.5l-3.5 3.5l-3.5 -3.5zM219.7 12.3l3.5 3.5l-3.5 3.5l-3.5 -3.5zM220.3 12.0l3.5 3.5l-3.5 3.5l-3.5 -3.5zM221.2 12.3l3.5 3.5l-3.5 3.5l-3.5 -3.5zM222.2 12.6l3.5 3.5l-3.5 3.5l-3.5 -3.5zM223.1 11.8l3.5 3.5l-3.5 3.5l-3.5 -3.5zM224.5 12.0l3.5 3.5l-3.5 3.5l-3.5 -3.5zM225.0 12.6l3.5 3.5l-3.5 3.5l-3.5 -3.5zM226.4 10.9l3.5 3.5l-3.5 3.5l-3.5 -3.5zM227.1 12.4l3.5 3.5l-3.5 3.5l-3.5 -3.5zM228.4 11.8l3.5 3.5l-3.5 3.5l-3.5 -3.5zM229.6 11.6l3.5 3.5l-3.5 3.5l-3.5 -3.5zM230.1 12.0l3.5 3.5l-3.5 3.5l-3.5 -3.5zM231.2 12.3l3.5 3.5l-3.5 3.5l-3.5 -3.5zM232.5 11.9l3.5 3.5l-3.5 3.5l-3.5 -3.5zM233.6 11.6l3.5 3.5l-3.5 3.5l-3.5 -3.5zM234.2 12.7l3.5 3.5l-3.5 3.5l-3.5 -3.5zM235.2 12.4l3.5 3.5l-3.5 3.5l-3.5 -3.5zM236.1 11.8l3.5 3.5l-3.5 3.5l-3.5 -3.5zM237.2 12.0l3.5 3.5l-3.5 3.5l-3.5 -3.5zM238.1 11.9l3.5 3.5l-3.5 3.5l-3.5 -3.5zM239.4 12.4l3.5 3.5l-3.5 3.5l-3.5 -3.5zM240.2 12.2l3.5 3.5l-3.5 3.5l-3.5 -3.5zM241.4 11.4l3.5 3.5l-3.5 3.5l-3.5 -3.5zM241.8 12.6l3.5 3.5l-3.5 3.5l-3.5 -3.5zM243.5 11.9l3.5 3.5l-3.5 3.5l-3.5 -3.5zM244.3 11.4l3.5 3.5l-3.5 3.5l-3.5 -3.5zM244.9 12.0l3.5 3.5l-3.5 3.5l-3.5 -3.5zM245.8 12.2l3.5 3.5l-3.5 3.5l-3.5 -3.5zM247.0 12.0l3.5 3.5l-3.5 3.5l-3.5 -3.5zM248.7 12.7l3.5 3.5l-3.5 3.5l-3.5 -3.5zM249.1 12.3l3.5 3.5l-3.5 3.5l-3.5 -3.5zM250.0 11.5l3.5 3.5l-3.5 3.5l-3.5 -3.5zM251.3 12.4l3.5 3.5l-3.5 3.5l-3.5 -3.5zM252.1 12.0l3.5 3.5l-3.5 3.5l-3.5 -3.5zM253.2 11.2l3.5 3.5l-3.5 3.5l-3.5 -3.5zM254.2 12.4l3.5 3.5l-3.5 3.5l-3.5 -3.5zM255.2 12.0l3.5 3.5l-3.5 3.5l-3.5 -3.5zM256.4 11.4l3.5 3.5l-3.5 3.5l-3.5 -3.5zM257.5 12.4l3.5 3.5l-3.5 3.5l-3.5 -3.5zM258.6 12.3l3.5 3.5l-3.5 3.5l-3.5 -3.5zM258.7 11.4l3.5 3.5l-3.5 3.5l-3.5 -3.5z"/>
<polyline fill="none" stroke="#000" stroke-width="1.85" stroke-linejoin="round" stroke-linecap="round" points="78.2,281.5 79.2,281.0 80.2,280.4 81.2,279.9 82.2,279.3 83.2,278.8 84.2,278.3 85.2,277.7 86.2,277.2 87.2,276.6 88.2,276.1 89.2,275.5 90.2,275.0 91.2,274.4 92.2,273.9 93.2,273.3 94.2,272.7 95.2,272.2 96.2,271.6 97.2,271.0 98.2,270.5 99.2,269.9 100.2,269.3 101.2,268.7 102.2,268.1 103.2,267.5 104.2,266.9 105.2,266.3 106.2,265.7 107.2,265.1 108.2,264.5 109.2,263.8 110.2,263.2 111.2,262.5 112.2,261.9 113.2,261.2 114.2,260.6 115.2,259.9 116.2,259.2 117.2,258.5 118.2,257.8 119.2,257.1 120.2,256.4 121.2,255.7 122.2,254.9 123.2,254.2 124.2,253.4 125.2,252.7 126.2,251.9 127.2,251.1 128.2,250.4 129.2,249.6 130.2,248.8 131.2,247.9 132.2,247.1 133.2,246.3 134.2,245.4 135.2,244.6 136.2,243.7 137.2,242.9 138.2,242.0 139.2,241.1 140.2,240.2 141.2,239.3 142.2,238.3 143.2,237.4 144.2,236.5 145.2,235.5 146.2,234.5 147.2,233.6 148.2,232.6 149.2,231.6 150.2,230.6 151.2,229.5 152.2,228.5 153.2,227.4 154.2,226.4 155.2,225.3 156.2,224.2 157.2,223.1 158.2,222.0 159.2,220.9 160.2,219.8 161.2,218.6 162.2,217.5 163.2,216.3 164.2,215.1 165.2,213.9 166.2,212.7 167.2,211.5 168.2,210.2 169.2,209.0 170.2,207.7 171.2,206.4 172.2,205.2 173.2,203.8 174.2,202.5 175.2,201.2 176.2,199.8 177.2,198.5 178.2,197.1 179.2,195.7 180.2,194.3 181.2,192.9 182.2,191.5 183.2,190.0 184.2,188.6 185.2,187.1 186.2,185.6 187.2,184.1 188.2,182.6 189.2,181.1 190.2,179.6 191.2,178.1 192.2,176.5 193.2,175.0 194.2,173.4 195.2,171.9 196.2,170.3 197.2,168.7 198.2,167.1 199.2,165.6 200.2,164.0 201.2,162.3 202.2,160.7 203.2,159.1 204.2,157.5 205.2,155.9 206.2,154.3 207.2,152.6 208.2,151.0 209.2,149.3 210.2,147.7 211.2,146.1 212.2,144.4 213.2,142.8 214.2,141.1 215.2,139.5 216.2,137.8 217.2,136.2 218.2,134.5 219.2,132.9 220.2,131.2 221.2,129.6 222.2,127.9 223.2,126.3 224.2,124.6 225.2,123.0 226.2,121.3 227.2,119.7 228.2,118.1 229.2,116.4 230.2,114.8 231.2,113.2 232.2,111.6 233.2,110.0 234.2,108.4 235.2,106.8 236.2,105.2 237.2,103.6 238.2,102.0 239.2,100.5 240.2,98.9 241.2,97.3 242.2,95.8 243.2,94.3 244.2,92.7 245.2,91.2 246.2,89.7 247.2,88.2 248.2,86.7 249.2,85.2 250.2,83.8 251.2,82.3 252.2,80.9 253.2,79.5 254.2,78.0 255.2,76.6 256.2,75.2 257.2,73.9 258.2,72.5 259.2,71.2 260.2,69.8 261.2,68.5 262.2,67.2 263.2,65.9 264.2,64.7 265.2,63.4 266.2,62.2 267.2,61.0 268.2,59.7 269.2,58.6 270.2,57.4 271.2,56.3 272.2,55.1 273.2,54.0 274.2,52.9 275.2,51.9 276.2,50.8 277.2,49.8 278.2,48.7 279.2,47.7 280.2,46.8 281.2,45.8 282.2,44.8 283.2,43.9 284.2,43.0 285.2,42.1 286.2,41.2 287.2,40.4 288.2,39.5 289.2,38.7 290.2,37.9 291.2,37.1 292.2,36.4 293.2,35.6 294.2,34.9 295.2,34.1 296.2,33.4 297.2,32.8 298.2,32.1 299.2,31.5 300.2,30.8 301.2,30.2 302.2,29.6 303.2,29.0 304.2,28.5 305.2,27.9 306.2,27.4 307.2,26.9 308.2,26.4 309.2,25.9 310.2,25.5 311.2,25.0 312.2,24.6 313.2,24.2 314.2,23.8 315.2,23.4 316.2,23.0 317.2,22.7 318.2,22.3 319.2,22.0 320.2,21.7 321.2,21.4 322.2,21.1 323.2,20.8 324.2,20.5 325.2,20.3 326.2,20.0 327.2,19.8 328.2,19.6 329.2,19.4 330.2,19.2 331.2,19.0 332.2,18.8 333.2,18.6 334.2,18.4 335.2,18.2 336.2,18.1 337.2,17.9 338.2,17.8 339.2,17.6 340.2,17.5 341.2,17.3 342.2,17.2 343.2,17.1 344.2,17.0 345.2,16.8 346.2,16.7 347.2,16.6 348.2,16.5 349.2,16.4 350.2,16.3 351.2,16.2 352.2,16.0 353.2,15.9 354.2,15.8 355.2,15.7 356.2,15.6 357.2,15.5 358.2,15.4 359.2,15.2 359.5,15.2"/><polyline fill="none" stroke="#000" stroke-width="1.85" stroke-linejoin="round" stroke-linecap="round" points="78.2,281.5 79.2,280.8 80.2,280.2 81.2,279.5 82.2,278.8 83.2,278.1 84.2,277.5 85.2,276.8 86.2,276.1 87.2,275.3 88.2,274.6 89.2,273.9 90.2,273.1 91.2,272.4 92.2,271.6 93.2,270.8 94.2,270.0 95.2,269.2 96.2,268.3 97.2,267.5 98.2,266.6 99.2,265.7 100.2,264.8 101.2,263.8 102.2,262.9 103.2,261.9 104.2,260.9 105.2,259.8 106.2,258.8 107.2,257.7 108.2,256.6 109.2,255.4 110.2,254.2 111.2,253.0 112.2,251.8 113.2,250.5 114.2,249.2 115.2,247.9 116.2,246.5 117.2,245.1 118.2,243.7 119.2,242.3 120.2,240.8 121.2,239.2 122.2,237.7 123.2,236.1 124.2,234.5 125.2,232.9 126.2,231.2 127.2,229.5 128.2,227.8 129.2,226.1 130.2,224.3 131.2,222.5 132.2,220.7 133.2,218.9 134.2,217.0 135.2,215.1 136.2,213.2 137.2,211.3 138.2,209.3 139.2,207.3 140.2,205.3 141.2,203.3 142.2,201.3 143.2,199.2 144.2,197.1 145.2,195.1 146.2,192.9 147.2,190.8 148.2,188.7 149.2,186.5 150.2,184.3 151.2,182.1 152.2,179.9 153.2,177.7 154.2,175.4 155.2,173.2 156.2,170.9 157.2,168.6 158.2,166.3 159.2,164.0 160.2,161.7 161.2,159.4 162.2,157.0 163.2,154.7 164.2,152.3 165.2,149.9 166.2,147.5 167.2,145.1 168.2,142.7 169.2,140.3 170.2,137.8 171.2,135.4 172.2,132.9 173.2,130.5 174.2,128.0 175.2,125.5 176.2,123.0 177.2,120.5 178.2,118.0 179.2,115.5 180.2,113.0 181.2,110.5 182.2,108.0 183.2,105.6 184.2,103.2 185.2,100.8 186.2,98.4 187.2,96.1 188.2,93.8 189.2,91.5 190.2,89.3 191.2,87.0 192.2,84.8 193.2,82.6 194.2,80.4 195.2,78.3 196.2,76.1 197.2,73.9 198.2,71.7 199.2,69.6 200.2,67.6 201.2,65.6 202.2,63.9 203.2,62.2 204.2,60.6 205.2,59.1 206.2,57.5 207.2,55.9 208.2,54.4 209.2,52.8 210.2,51.3 211.2,49.8 212.2,48.3 213.2,46.8 214.2,45.3 215.2,43.9 216.2,42.6 217.2,41.2 218.2,40.0 219.2,38.7 220.2,37.6 221.2,36.5 222.2,35.4 223.2,34.5 224.2,33.5 225.2,32.7 226.2,31.8 227.2,31.0 228.2,30.3 229.2,29.5 230.2,28.8 231.2,28.1 232.2,27.5 233.2,26.8 234.2,26.2 235.2,25.5 236.2,24.9 237.2,24.3 238.2,23.7 239.2,23.2 240.2,22.6 241.2,22.1 242.2,21.6 243.2,21.1 244.2,20.6 245.2,20.1 246.2,19.7 247.2,19.3 248.2,18.9 249.2,18.5 250.2,18.1 251.2,17.8 252.2,17.4 253.2,17.1 254.2,16.8 255.2,16.6 256.2,16.3 257.2,16.1 258.2,15.9 259.2,15.7 260.2,15.6 261.2,15.5 262.2,15.4 263.2,15.3 264.2,15.2 265.0,15.2"/><polyline fill="none" stroke="#000" stroke-width="1.85" stroke-linejoin="round" stroke-linecap="round" points="78.2,281.5 79.2,281.1 80.2,280.5 81.2,279.8 82.2,278.9 83.2,277.9 84.2,276.8 85.2,275.6 86.2,274.3 87.2,272.9 88.2,271.5 89.2,270.0 90.2,268.5 91.2,267.0 92.2,265.5 93.2,264.0 94.2,262.5 95.2,261.0 96.2,259.5 97.2,258.1 98.2,256.5 99.2,255.0 100.2,253.4 101.2,251.8 102.2,250.1 103.2,248.3 104.2,246.4 105.2,244.5 106.2,242.5 107.2,240.4 108.2,238.2 109.2,236.0 110.2,233.6 111.2,231.3 112.2,228.8 113.2,226.3 114.2,223.7 115.2,221.1 116.2,218.4 117.2,215.7 118.2,212.9 119.2,210.0 120.2,207.1 121.2,204.2 122.2,201.2 123.2,198.2 124.2,195.2 125.2,192.1 126.2,189.0 127.2,185.8 128.2,182.6 129.2,179.3 130.2,176.0 131.2,172.6 132.2,169.2 133.2,165.8 134.2,162.3 135.2,158.8 136.2,155.3 137.2,151.7 138.2,148.1 139.2,144.5 140.2,141.0 141.2,137.4 142.2,133.8 143.2,130.2 144.2,126.6 145.2,123.1 146.2,119.6 147.2,116.1 148.2,112.6 149.2,109.1 150.2,105.6 151.2,102.2 152.2,98.7 153.2,95.3 154.2,91.9 155.2,88.5 156.2,85.2 157.2,82.0 158.2,78.8 159.2,75.7 160.2,72.7 161.2,69.8 162.2,67.0 163.2,64.3 164.2,61.7 165.2,59.2 166.2,56.7 167.2,54.4 168.2,52.2 169.2,50.0 170.2,47.9 171.2,45.9 172.2,44.0 173.2,42.2 174.2,40.4 175.2,38.7 176.2,37.1 177.2,35.6 178.2,34.1 179.2,32.8 180.2,31.4 181.2,30.2 182.2,29.0 183.2,27.8 184.2,26.8 185.2,25.7 186.2,24.8 187.2,23.9 188.2,23.0 189.2,22.2 190.2,21.4 191.2,20.7 192.2,20.0 193.2,19.4 194.2,18.8 195.2,18.3 196.2,17.8 197.2,17.3 198.2,16.9 199.2,16.5 200.2,16.2 201.2,15.9 202.2,15.7 203.2,15.5 204.2,15.3 205.2,15.2 206.2,15.1 207.2,15.0 207.4,15.0"/>
<path fill="none" stroke="#222" stroke-width="1.5" d="M78.2 281.5V9.6H531.2V286.5M77.60000000000001 281.5H531.2"/><path fill="none" stroke="#1a1a1a" stroke-width="1.2" d="M78.2 281.5h-5.5M78.2 254.8h-4M78.2 228.1h-5.5M78.2 201.4h-4M78.2 174.7h-5.5M78.2 148.1h-4M78.2 121.4h-5.5M78.2 94.7h-4M78.2 68.0h-5.5M78.2 41.3h-4M78.2 14.6h-5.5M78.2 281.5v5M134.8 281.5v4M191.4 281.5v5M248.0 281.5v4M304.6 281.5v5M361.2 281.5v4M417.8 281.5v5M474.4 281.5v4M531.0 281.5v5"/>
<text x="60.7" y="287.8" text-anchor="end">0.0</text><text x="60.7" y="234.4" text-anchor="end">0.2</text><text x="60.7" y="181.0" text-anchor="end">0.4</text><text x="60.7" y="127.7" text-anchor="end">0.6</text><text x="60.7" y="74.3" text-anchor="end">0.8</text><text x="60.7" y="20.9" text-anchor="end">1.0</text><text x="78.2" y="310.6" text-anchor="middle">0</text><text x="191.4" y="310.6" text-anchor="middle">50</text><text x="305.7" y="310.6" text-anchor="middle">100</text><text x="418.9" y="310.6" text-anchor="middle">150</text><text x="532.1" y="310.6" text-anchor="middle">200</text><text x="305.8" y="334.6" text-anchor="middle" style="font-size:18.6px">Time [s]</text><text transform="translate(21.2,147) rotate(-90)" text-anchor="middle" style="font-size:19.2px">Cure index</text>
<path fill="#00b0f0" d="M426.3 117.2l3.7 7.5h-7.4z"/><rect fill="#00b050" x="422.7" y="139.9" width="7.2" height="7.1"/><path fill="#ff0000" d="M426.5 162.8l3.5 3.5l-3.5 3.5l-3.5 -3.5z"/><path stroke="#000" stroke-width="1.7" d="M418.3 189H434.8"/><text x="435.9" y="125.7" style="font-size:13.8px;stroke-width:.2px">164°C</text><text x="435.9" y="148.2" style="font-size:13.8px;stroke-width:.2px">174°C</text><text x="435.9" y="171.1" style="font-size:13.8px;stroke-width:.2px">183°C</text><text x="435.9" y="193.7" style="font-size:13.8px;stroke-width:.2px">KS Simulations</text>
</svg>
</body></html>
